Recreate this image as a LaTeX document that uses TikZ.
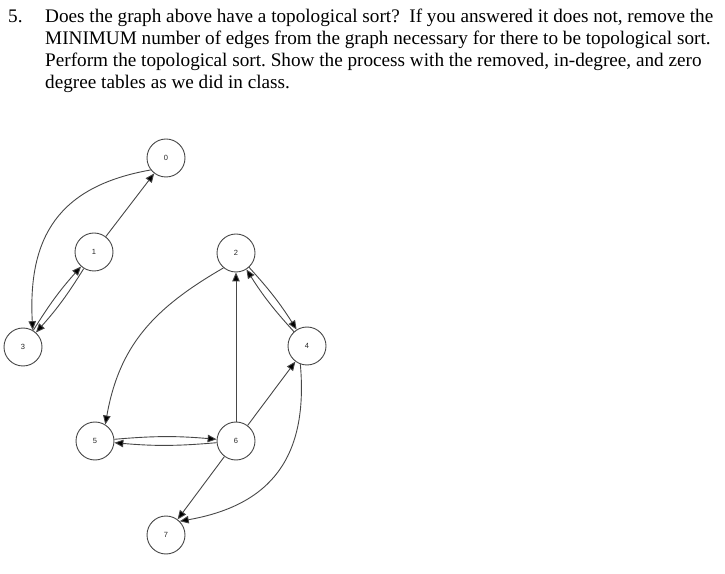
\documentclass[tikz,border=0pt]{standalone}
\usepackage{fontspec}
\setmainfont{Liberation Serif}
\newfontfamily\labfont{Liberation Sans}
\usetikzlibrary{arrows.meta}
\frenchspacing
\begin{document}
\begin{tikzpicture}[x=1pt,y=1pt,
  txt/.style={anchor=base west,inner sep=0pt,font=\fontsize{19.2}{22}\selectfont},
  vtx/.style={circle,draw=black!72,line width=0.9pt,minimum size=38pt,inner sep=0pt,
              font=\labfont\fontsize{7.5}{8}\selectfont,text=black!85},
  edge/.style={draw=black!72,line width=0.9pt,-{Triangle[length=9pt,width=7.5pt,fill=black]}},
  dbl/.style={edge,bend left=5}]
\useasboundingbox (0,0) rectangle (725,573);
% text
\node[txt] (num) at (8,550.5) {5.};
\node[txt] (l1) at (45,550.5) {Does the graph above have a topological sort?\ \ If you answered it does not, remove the};
\node[txt] (l2) at (45,528.6) {MINIMUM number of edges from the graph necessary for there to be topological sort.};
\node[txt] (l3) at (45,506.7) {Perform the topological sort. Show the process with the removed, in-degree, and zero};
\node[txt] (l4) at (45,484.8) {degree tables as we did in class.};
% vertices
\node[vtx] (n0) at (166,415) {0};
\node[vtx] (n1) at (94,321) {1};
\node[vtx] (n2) at (236,320) {2};
\node[vtx] (n3) at (23,226) {3};
\node[vtx] (n4) at (307,227) {4};
\node[vtx] (n5) at (95,132) {5};
\node[vtx] (n6) at (236,132) {6};
\node[vtx] (n7) at (166,38) {7};
% edges
\draw[edge] (n1) -- (n0);
\draw[edge] (n0.218) to[out=190,in=93,looseness=1.2] (n3.60);
\draw[dbl] (n1) to (n3);
\draw[dbl] (n3) to (n1);
\draw[edge] (n2.230) to[out=210,in=80,looseness=1.05] (n5.58);
\draw[edge] (n6) -- (n2);
\draw[dbl] (n2) to (n4);
\draw[dbl] (n4) to (n2);
\draw[edge] (n6) -- (n4);
\draw[dbl] (n5) to (n6);
\draw[dbl] (n6) to (n5);
\draw[edge] (n6) -- (n7);
\draw[edge] (n4.250) to[out=275,in=10,looseness=1.2] (n7.45);
\end{tikzpicture}
\end{document}
